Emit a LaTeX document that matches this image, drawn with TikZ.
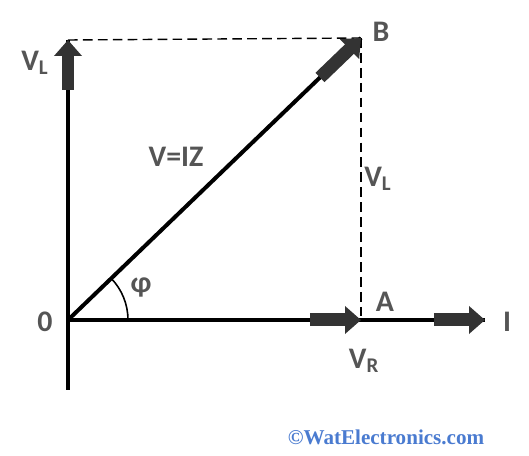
\documentclass[tikz,border=0pt]{standalone}
\usepackage{fontspec}
\setmainfont{Carlito}
\newfontfamily\markfont{Liberation Serif}
\usetikzlibrary{arrows.meta,calc}
\definecolor{labelgray}{HTML}{555555}
\definecolor{blockgray}{HTML}{333333}
\definecolor{markblue}{HTML}{4A7BD0}

\begin{document}
\begin{tikzpicture}[
            x=0.02cm, y=-0.02cm,
            axis/.style={line width=0.08cm, black},
            guide/.style={line width=0.8pt, dash pattern=on 5.5pt off 3pt},
            blockarrow/.style={line width=0.26cm, blockgray, -{Triangle[length=0.32cm,width=0.54cm]}},
            lbl/.style={font=\fontsize{17}{20}\selectfont\bfseries, text=labelgray, inner sep=1pt}
        ]
            \useasboundingbox (0,0) rectangle (529,456);
            \coordinate (O) at (68,320);
            \coordinate (A) at (361,320);
            \coordinate (B) at (361,38);
            \coordinate (VLtop) at (68,40);
            \coordinate (Iend) at (485,320);
            \coordinate (Obot) at (68,390);
            \coordinate (VLbase) at (68,90);
            \coordinate (VRbase) at (310,320);
            \coordinate (Ibase) at (434,320);
            \coordinate (Bbase) at ($(O)!0.86!(B)$);

            % guides
            \draw[guide] (VLtop) -- (B);
            \draw[guide] (B) -- (A);

            % axes and phasor
            \draw[axis] (Obot) -- (VLtop);
            \draw[axis] (O) -- (Iend);
            \draw[axis] (O) -- (B);

            % block arrows
            \draw[blockarrow] (VLbase) -- (VLtop);
            \draw[blockarrow] (VRbase) -- (A);
            \draw[blockarrow] (Ibase) -- (Iend);
            \draw[blockarrow] (Bbase) -- (B);

            % angle
            \draw[line width=0.9pt] ($(O)+(60,0)$) arc[start angle=0, end angle=44, radius=1.2cm];

            \node[lbl] (lblVL) at (35,63) {V\textsubscript{L}};
            \node[lbl] (lblB) at (381,32) {B};
            \node[lbl] (lblZ) at (176,157) {V=IZ};
            \node[lbl] (lblVL2) at (378,179) {V\textsubscript{L}};
            \node[lbl] (lblphi) at (141,287) {φ};
            \node[lbl] (lblO) at (45,322) {0};
            \node[lbl] (lblA) at (385,302) {A};
            \node[lbl] (lblI) at (507,322) {I};
            \node[lbl] (lblVR) at (364,361) {V\textsubscript{R}};
            \node[font=\markfont\fontsize{12}{14}\selectfont\bfseries, text=markblue] (mark) at (386,437) {©WatElectronics.com};
        \end{tikzpicture}
\end{document}
